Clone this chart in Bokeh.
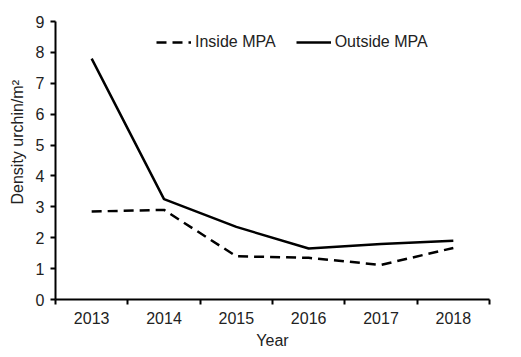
from bokeh.plotting import figure
from bokeh.models import FixedTicker, Legend, LegendItem, Range1d, Title
from bokeh.embed import file_html
from bokeh.resources import INLINE

years = [2013, 2014, 2015, 2016, 2017, 2018]
inside_mpa = [2.85, 2.9, 1.4, 1.35, 1.12, 1.67]
outside_mpa = [7.8, 3.25, 2.35, 1.65, 1.8, 1.9]
y_ticks = [0, 1, 2, 3, 4, 5, 6, 7, 8, 9]

FONT = "Liberation Sans"

p = figure(width=513, height=351, output_backend="svg", toolbar_location=None,
           x_range=Range1d(2012.5, 2018.5), y_range=Range1d(0, 9),
           min_border_left=54, min_border_right=24, min_border_top=21, min_border_bottom=48)
p.outline_line_color = None
p.xgrid.visible = False
p.ygrid.visible = False

r_in = p.line(years, inside_mpa, line_color="black", line_width=2.5, line_dash="10 6")
r_out = p.line(years, outside_mpa, line_color="black", line_width=2.5)

p.xaxis.ticker = FixedTicker(ticks=years, minor_ticks=[y - 0.5 for y in years] + [2018.5])
p.xaxis.major_tick_out = 0
p.xaxis.major_tick_in = 0
p.xaxis.minor_tick_out = 5
p.xaxis.minor_tick_in = 0
p.xaxis.minor_tick_line_color = "black"
p.xaxis.minor_tick_line_width = 2
p.yaxis.ticker = FixedTicker(ticks=y_ticks)
p.yaxis.major_tick_out = 5
p.yaxis.major_tick_in = 0
p.yaxis.minor_tick_line_color = None

for ax in (p.xaxis, p.yaxis):
    ax.axis_line_width = 2
    ax.axis_line_color = "black"
    ax.major_tick_line_width = 2
    ax.major_tick_line_color = "black"
    ax.major_label_text_font = FONT
    ax.major_label_text_font_size = "16px"
    ax.major_label_text_color = "#222222"
    ax.axis_label_text_font = FONT
    ax.axis_label_text_font_size = "16px"
    ax.axis_label_text_font_style = "normal"
    ax.axis_label_text_color = "#222222"

p.xaxis.axis_label = "Year"
p.xaxis.major_label_standoff = 7
p.yaxis.major_label_standoff = 6
p.xaxis.axis_label_standoff = 5

ytitle = Title(text="Density urchin/m²", align="left", offset=95, standoff=13,
               text_font=FONT, text_font_size="16px", text_font_style="normal",
               text_color="#222222")
p.add_layout(ytitle, "left")

legend = Legend(items=[LegendItem(label="Inside MPA", renderers=[r_in]),
                       LegendItem(label="Outside MPA", renderers=[r_out])],
                orientation="horizontal", location=(101, 247),
                border_line_color=None, background_fill_alpha=0,
                padding=0, margin=0, spacing=20, glyph_width=35, label_standoff=4,
                label_text_font=FONT, label_text_font_size="16px", label_text_color="#222222")
p.add_layout(legend)

open("out.html", "w").write(file_html(p, INLINE))
